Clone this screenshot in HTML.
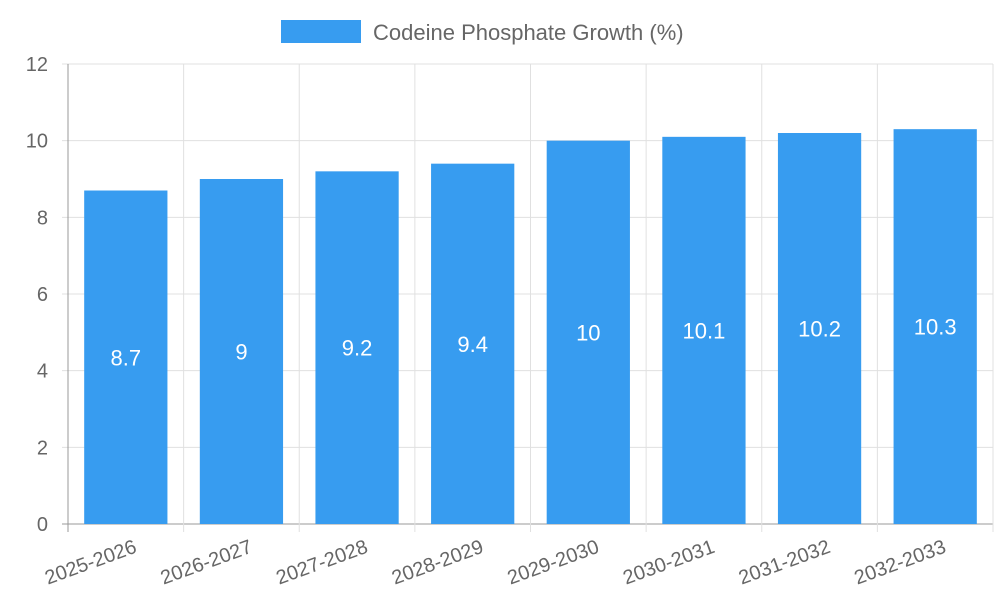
<!DOCTYPE html>
<html><head><meta charset="utf-8"><style>
body{margin:0;background:#fff;}
svg text{font-family:"Liberation Sans",sans-serif;}
</style></head><body>
<svg id="chart" width="1000" height="600" xmlns="http://www.w3.org/2000/svg">
<g>
<rect x="281" y="20" width="80" height="23" fill="#379cf0"/>
<text x="373" y="40" font-size="22" fill="#666">Codeine Phosphate Growth (%)</text>
</g>
<g id="grid"></g>
<g id="bars"></g>
<g id="axes"></g>
</svg>
<script>
const categories=["2025-2026","2026-2027","2027-2028","2028-2029","2029-2030","2030-2031","2031-2032","2032-2033"];
const values=[8.7,9,9.2,9.4,10,10.1,10.2,10.3];
const yTicks=[0,2,4,6,8,10,12];
const NS="http://www.w3.org/2000/svg";
const L=68,R=993,T=64,B=524,yMax=12;
const band=(R-L)/categories.length;
const y=v=>B-(v/yMax)*(B-T);
const xs=i=>L+i*band;
function mk(tag,attrs,parent,text){const e=document.createElementNS(NS,tag);for(const k in attrs)e.setAttribute(k,attrs[k]);if(text!==undefined)e.textContent=text;parent.appendChild(e);return e;}
const grid=document.getElementById('grid'),bars=document.getElementById('bars'),axes=document.getElementById('axes');
yTicks.forEach(t=>{
 const l=mk('line',{x1:L-6,x2:R,y1:y(t),y2:y(t),stroke:t===0?'#999':'#e0e0e0','stroke-width':1},grid);
 
 
 const tx=mk('text',{x:L-20,y:y(t)+7,'font-size':20,fill:'#666','text-anchor':'end'},axes,String(t));
 
 
});
for(let i=0;i<=categories.length;i++){
 const l=mk('line',{x1:xs(i),x2:xs(i),y1:T,y2:B+8,stroke:i===0?'#999':'#e0e0e0','stroke-width':1},grid);
 
 
}
const bw=band*0.72;
categories.forEach((c,i)=>{
 const cx=xs(i)+band/2;
 const r=mk('rect',{x:cx-bw/2,y:y(values[i]),width:bw,height:B-y(values[i]),fill:'#379cf0'},bars);
 
 
 const v=mk('text',{x:cx,y:(y(values[i])+B)/2+8,'font-size':22,fill:'#fff','text-anchor':'middle'},bars,String(values[i]));
 
 
 const tl=mk('text',{x:cx+12,y:B+28,'font-size':20,fill:'#666','text-anchor':'end',transform:`rotate(-20 ${cx+12} ${B+28})`},axes,c);
 
 
});
</script>
</body></html>
